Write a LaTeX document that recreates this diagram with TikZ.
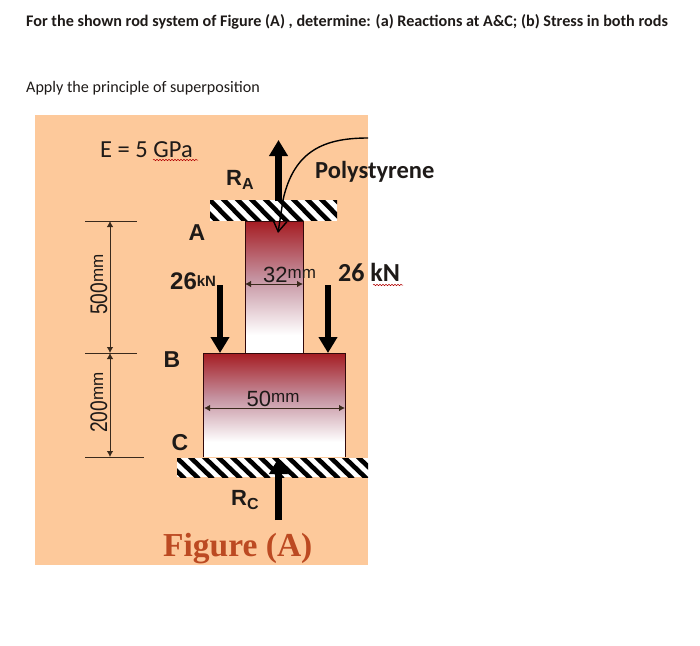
\documentclass[tikz,border=0pt]{standalone}
\usepackage{fontspec}
\setmainfont{Carlito}
\newfontfamily\labelfont{Liberation Sans}
\newfontfamily\figfont{Liberation Serif}
\usetikzlibrary{arrows.meta,decorations.pathmorphing}
\definecolor{bgpeach}{HTML}{FDC99B}
\definecolor{rodred}{HTML}{A51C22}
\definecolor{midmauve}{HTML}{C592A0}
\definecolor{figred}{HTML}{BC4A22}
\definecolor{dimc}{HTML}{3A2A1C}
\definecolor{inkc}{HTML}{1E1A18}
\tikzset{
  x=1pt,y=-1pt,
  sans/.style={font=\fontsize{24.5}{24.5}\selectfont,text=inkc,inner sep=0pt},
  sansb/.style={font=\bfseries\fontsize{24.5}{24.5}\selectfont,text=inkc,inner sep=0pt},
  lab/.style={font=\labelfont\bfseries\fontsize{23}{23}\selectfont,text=inkc,inner sep=0pt},
  dimtxt/.style={font=\labelfont\fontsize{22}{22}\selectfont,text=inkc,inner sep=0pt},
  dimline/.style={draw=dimc,line width=1pt},
  dimarrow/.style={dimline,{Latex[length=6pt,width=6.5pt]}-{Latex[length=6pt,width=6.5pt]}},
  force/.style={draw=black,line width=6.2pt,-{Triangle[length=16pt,width=18pt]}},
  body/.style={draw=black!70!rodred,line width=0.9pt},
  squig/.style={draw=red!70!black,line width=0.5pt,decorate,decoration={snake,amplitude=0.7pt,segment length=3pt}}
}
\newcommand{\hatchwall}[4]{%
  \begin{scope}
    \clip (#1,#2) rectangle (#3,#4);
    \fill[white] (#1,#2) rectangle (#3,#4);
    \foreach \s in {0,14,...,238}{
      \draw[black,line width=4.6pt] ({#1-30+\s},#2-2) -- ({#1-30+\s+24},#4+2);
    }
  \end{scope}}
\newcommand{\supmm}{\raisebox{4pt}{\fontsize{17}{17}\selectfont mm}}
\begin{document}
\begin{tikzpicture}
\useasboundingbox (0,0) rectangle (700,645);
\fill[white] (0,0) rectangle (700,645);
\fill[bgpeach] (35,115) rectangle (368,565);

\node[anchor=west,inner sep=0pt,font=\bfseries\fontsize{16.16}{16.16}\selectfont,text=inkc] (title) at (26,22) {For the shown rod system of Figure (A) , determine: (a) Reactions at A\&C; (b) Stress in both rods};
\node[anchor=west,inner sep=0pt,font=\fontsize{16.1}{16.1}\selectfont,text=inkc] (apply) at (26,88.5) {Apply the principle of superposition};

% walls
\hatchwall{210}{200}{337}{220.5}
\hatchwall{177}{458}{368}{477}

% rod AB
\shade[top color=rodred,bottom color=white,middle color=midmauve] (245,221) rectangle (303,335);
\fill[white] (245,335) rectangle (303,353);
\draw[body] (245,353) -- (245,221) -- (303,221) -- (303,353);
% block BC
\shade[top color=rodred,bottom color=white,middle color=midmauve] (203,353) rectangle (345,442);
\fill[white] (203,442) rectangle (345,457);
\draw[body] (203,457) -- (203,353) -- (345,353) -- (345,457);

% named anchors
\coordinate (ra0) at (278.5,201);  \coordinate (ra1) at (278.5,140);
\coordinate (rc0) at (278.5,520);  \coordinate (rc1) at (278.5,458);
\coordinate (fl0) at (220,285);  \coordinate (fl1) at (220,353);
\coordinate (fr0) at (328,285);  \coordinate (fr1) at (328,353);
\coordinate (ps0) at (368,138);  \coordinate (ps1) at (278,233);
\coordinate (d0) at (110,221);   \coordinate (d1) at (110,353);  \coordinate (d2) at (110,457);
\coordinate (w0) at (245,284);   \coordinate (w1) at (303,284);
\coordinate (v0) at (204,408);   \coordinate (v1) at (345,408);

% forces
\draw[force] (ra0) -- (ra1);
\draw[force] (rc0) -- (rc1);
\draw[force] (fl0) -- (fl1);
\draw[force] (fr0) -- (fr1);

% polystyrene leader
\draw[black,line width=1.4pt,-{Straight Barb[length=11pt,width=14pt]}] (ps0) .. controls (325,138) and (294,150) .. (283,200) -- (ps1);

% dimensions
\draw[dimline] (85,221) -- (137,221);
\draw[dimline] (85,353) -- (137,353);
\draw[dimline] (85,457) -- (144,457);
\draw[dimarrow] (d0) -- (d1);
\draw[dimarrow] (d1) -- (d2);
\draw[dimarrow] (w0) -- (w1);
\draw[dimarrow] (v0) -- (v1);

% labels
\node[sans,anchor=base west] (egpa) at (100,157) {E = 5 GPa};
\draw[squig] (153,160) -- (198,160);
\node[sansb,anchor=base west] (poly) at (315,178) {Polystyrene};
\node[sansb,anchor=base west,font=\bfseries\fontsize{26}{26}\selectfont] (kn) at (338,281) {26 kN};
\draw[squig] (373,285) -- (403,285);
\node[lab,anchor=base west] (ral) at (226,185) {\fontsize{22}{22}\selectfont R\raisebox{-4pt}{\fontsize{16}{16}\selectfont A}};
\node[lab,anchor=base west] (rcl) at (231,505) {\fontsize{22}{22}\selectfont R\raisebox{-4pt}{\fontsize{16}{16}\selectfont C}};
\node[lab,anchor=base] (al) at (197,240) {A};
\node[lab,anchor=base] (bl) at (172,367) {B};
\node[lab,anchor=base] (cl) at (180,450) {C};
\node[lab,anchor=base west,font=\labelfont\bfseries\fontsize{24}{24}\selectfont] (kl) at (170,289) {26\raisebox{3pt}{\fontsize{15}{15}\selectfont kN}};
\node[dimtxt,anchor=base west] (w32) at (263,282) {32\supmm};
\node[dimtxt,anchor=base west] (w50) at (246.5,406) {50\supmm};
\node[dimtxt,rotate=90,anchor=base west] (v500) at (107,315) {\scalebox{.8}[1]{\fontsize{24}{24}\selectfont 500}\supmm};
\node[dimtxt,rotate=90,anchor=base west] (v200) at (107,433) {\scalebox{.8}[1]{\fontsize{24}{24}\selectfont 200}\supmm};
\node[inner sep=0pt,anchor=base west,text=figred,font=\figfont\bfseries\fontsize{33.5}{33.5}\selectfont] (figa) at (163,556) {Figure (A)};
\end{tikzpicture}
\end{document}
